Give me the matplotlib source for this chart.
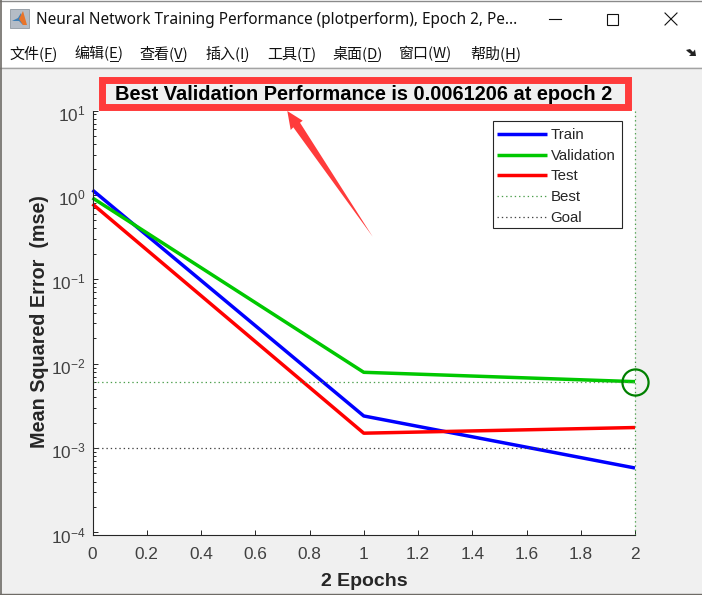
import numpy as np
import matplotlib
matplotlib.use("Agg")
import matplotlib.pyplot as plt
from matplotlib.patches import Rectangle, Polygon
from matplotlib.ticker import LogLocator
from matplotlib.transforms import ScaledTranslation

plt.rcParams['font.family'] = ['Liberation Sans', 'DejaVu Sans']
plt.rcParams['mathtext.fontset'] = 'custom'
plt.rcParams['mathtext.rm'] = 'Liberation Sans'

# values
epochs = [0, 1, 2]
train_mse = [1.14, 0.0024, 0.00058]
val_mse = [0.92, 0.0079, 0.0061206]
test_mse = [0.78, 0.0015, 0.00175]
best_epoch = 2
best_mse = 0.0061206
goal_mse = 0.001

x_ticks = [0, 0.2, 0.4, 0.6, 0.8, 1, 1.2, 1.4, 1.6, 1.8, 2]
x_tick_labels = ['0', '0.2', '0.4', '0.6', '0.8', '1', '1.2', '1.4', '1.6', '1.8', '2']
y_ticks = [1e-4, 1e-3, 1e-2, 1e-1, 1e0, 1e1]
y_tick_labels = ['$\\mathregular{10^{-4}}$', '$\\mathregular{10^{-3}}$', '$\\mathregular{10^{-2}}$',
                 '$\\mathregular{10^{-1}}$', '$\\mathregular{10^{0}}$', '$\\mathregular{10^{1}}$']

window_title = "Neural Network Training Performance (plotperform), Epoch 2, Pe..."
menu_items = ["文件(F)", "编辑(E)", "查看(V)", "插入(I)", "工具(T)", "桌面(D)", "窗口(W)", "帮助(H)"]
menu_x = [9, 74, 139, 206, 267, 332, 399, 470]

W, H = 702, 595
dotted = (0, (1.1, 2.35))
best_color = '#4c9f4c'

fig = plt.figure(figsize=(W / 100, H / 100), dpi=100, facecolor='#f0f0f0')

ax = fig.add_axes([92.5 / W, 1 - 535.3 / H, 542.5 / W, 424.8 / H], zorder=2)
ax.set_yscale('log')
ax.plot(epochs, train_mse, color='#0000ff', lw=2.5, label='Train', clip_on=False, solid_capstyle='butt')
ax.plot(epochs, val_mse, color='#00c800', lw=2.5, label='Validation', clip_on=False, solid_capstyle='butt')
ax.plot(epochs, test_mse, color='#ff0000', lw=2.5, label='Test', clip_on=False, solid_capstyle='butt')
ax.plot([0, 2], [best_mse, best_mse], color=best_color, lw=0.9, ls=dotted, label='Best')
ax.plot([best_epoch, best_epoch], [10 ** -4.034, 10], color=best_color, lw=0.9, ls=dotted, clip_on=False)
ax.plot([0, 2], [goal_mse, goal_mse], color='#444444', lw=0.9, ls=dotted, label='Goal')
ax.plot([best_epoch], [best_mse], 'o', mfc='none', mec='#008000', ms=18.8, mew=1.6, clip_on=False)

ax.set_xlim(0, 2)
ax.set_ylim(10 ** -4.034, 10)
ax.set_xticks(x_ticks)
ax.set_xticklabels(x_tick_labels)
ax.set_yticks(y_ticks)
ax.set_yticklabels(y_tick_labels)
ax.yaxis.set_minor_locator(LogLocator(base=10, subs=np.arange(2, 10), numticks=12))
ax.yaxis.set_minor_formatter(plt.NullFormatter())
ax.tick_params(axis='both', which='major', direction='in', length=3.6, width=0.7,
               color='#262626', labelcolor='#404040', labelsize=12.4)
ax.tick_params(axis='y', which='minor', direction='in', length=2.4, width=0.7, color='#262626')
ax.tick_params(axis='x', pad=8.5)
ax.tick_params(axis='y', pad=5)
# y labels sit a little below their ticks
for lab in ax.get_yticklabels():
    lab.set_transform(lab.get_transform() + ScaledTranslation(0, -1.5 / 72, fig.dpi_scale_trans))
for side in ['top', 'right']:
    ax.spines[side].set_visible(False)
for side in ['left', 'bottom']:
    ax.spines[side].set_linewidth(0.8)
    ax.spines[side].set_color('#262626')

ax.set_title("Best Validation Performance is 0.0061206 at epoch 2", fontsize=14.45,
             fontweight='bold', color='black', pad=7.3)
ax.set_xlabel("2 Epochs", fontsize=14, fontweight='bold', color='#262626')
ax.set_ylabel("Mean Squared Error  (mse)", fontsize=14.2, fontweight='bold', color='#262626')
ax.xaxis.set_label_coords(364 / W, 1 - 573 / H, transform=fig.transFigure)
ax.yaxis.set_label_coords(49 / W, 1 - 322 / H, transform=fig.transFigure)

# legend frame drawn by hand so its size can follow the picture
ax.add_patch(Rectangle((492.5 / W, 1 - 228 / H), 129 / W, 106.5 / H, transform=fig.transFigure,
                       fc='white', ec='#262626', lw=0.8, zorder=4, clip_on=False))
leg = ax.legend(loc='upper left', bbox_to_anchor=(492.5 / W, 1 - 123.5 / H),
                bbox_transform=fig.transFigure, fontsize=10.8, frameon=False,
                handlelength=3.3, handletextpad=0.27,
                labelspacing=0.45, borderpad=0.3, borderaxespad=0, labelcolor='#262626')

# window chrome and the red marks, in pixel coordinates of the picture
over = fig.add_axes([0, 0, 1, 1], zorder=5)
over.set_xlim(0, W)
over.set_ylim(H, 0)
over.axis('off')

over.add_patch(Rectangle((0, 0), W, 67, fc='white', ec='none'))
over.plot([0, W], [67.5, 67.5], color='#a3a3a3', lw=1)
over.plot([0, W], [0.5, 0.5], color='#8a8a8a', lw=1)
over.plot([0.7, 0.7], [0, H], color='#6e6b66', lw=1.2)
over.plot([0, W], [594.3, 594.3], color='#6e6b66', lw=1)

# matlab icon
over.add_patch(Rectangle((10, 9), 19, 19, fc='#b4bcc6', ec='#9aa2aa', lw=0.7))
over.add_patch(Polygon([(12, 21), (18, 18), (21, 13), (23, 25), (19, 21)], fc='#3f7fb5', ec='none'))
over.add_patch(Polygon([(19, 19), (23, 11), (27, 25), (23, 25)], fc='#e8742a', ec='none'))

over.text(36, 20.5, window_title, fontsize=11.05, family='Noto Sans', color='#111111', va='center')
over.plot([549, 561], [18.5, 18.5], color='#111111', lw=0.8)
over.add_patch(Rectangle((606.5, 13.5), 11, 11, fc='none', ec='#111111', lw=0.8))
over.plot([665, 677], [13, 25], color='#111111', lw=0.8)
over.plot([665, 677], [25, 13], color='#111111', lw=0.8)

renderer = fig.canvas.get_renderer()
for name, x in zip(menu_items, menu_x):
    fam = ['Noto Sans CJK SC', 'DejaVu Sans']
    t = over.text(x, 58, name, fontsize=10.8, family=fam, color='#111111', va='baseline')
    # underline the access key
    probe = over.text(x, 58, name[:3], fontsize=10.8, family=fam)
    x0 = probe.get_window_extent(renderer).x1
    probe.set_text(name[:4])
    x1 = probe.get_window_extent(renderer).x1
    probe.remove()
    over.plot([x0 + 0.5, x1], [61, 61], color='#111111', lw=0.7)

over.add_patch(Polygon([(686, 50), (690, 49), (693, 52), (695, 49.5), (696, 56), (689, 56),
                        (691, 54), (688, 52)], fc='#222222', ec='none'))

over.add_patch(Rectangle((101.5, 79.5), 526, 27, fc='none', ec='#ff3b3b', lw=5))
over.add_patch(Polygon([(287.3, 111), (302.7, 120.7), (300, 122.7), (372.7, 236.7),
                        (293.3, 127.3), (290.7, 130)], fc='#ff3b3b', ec='none'))

fig.savefig('out.png', dpi=100, facecolor=fig.get_facecolor())
